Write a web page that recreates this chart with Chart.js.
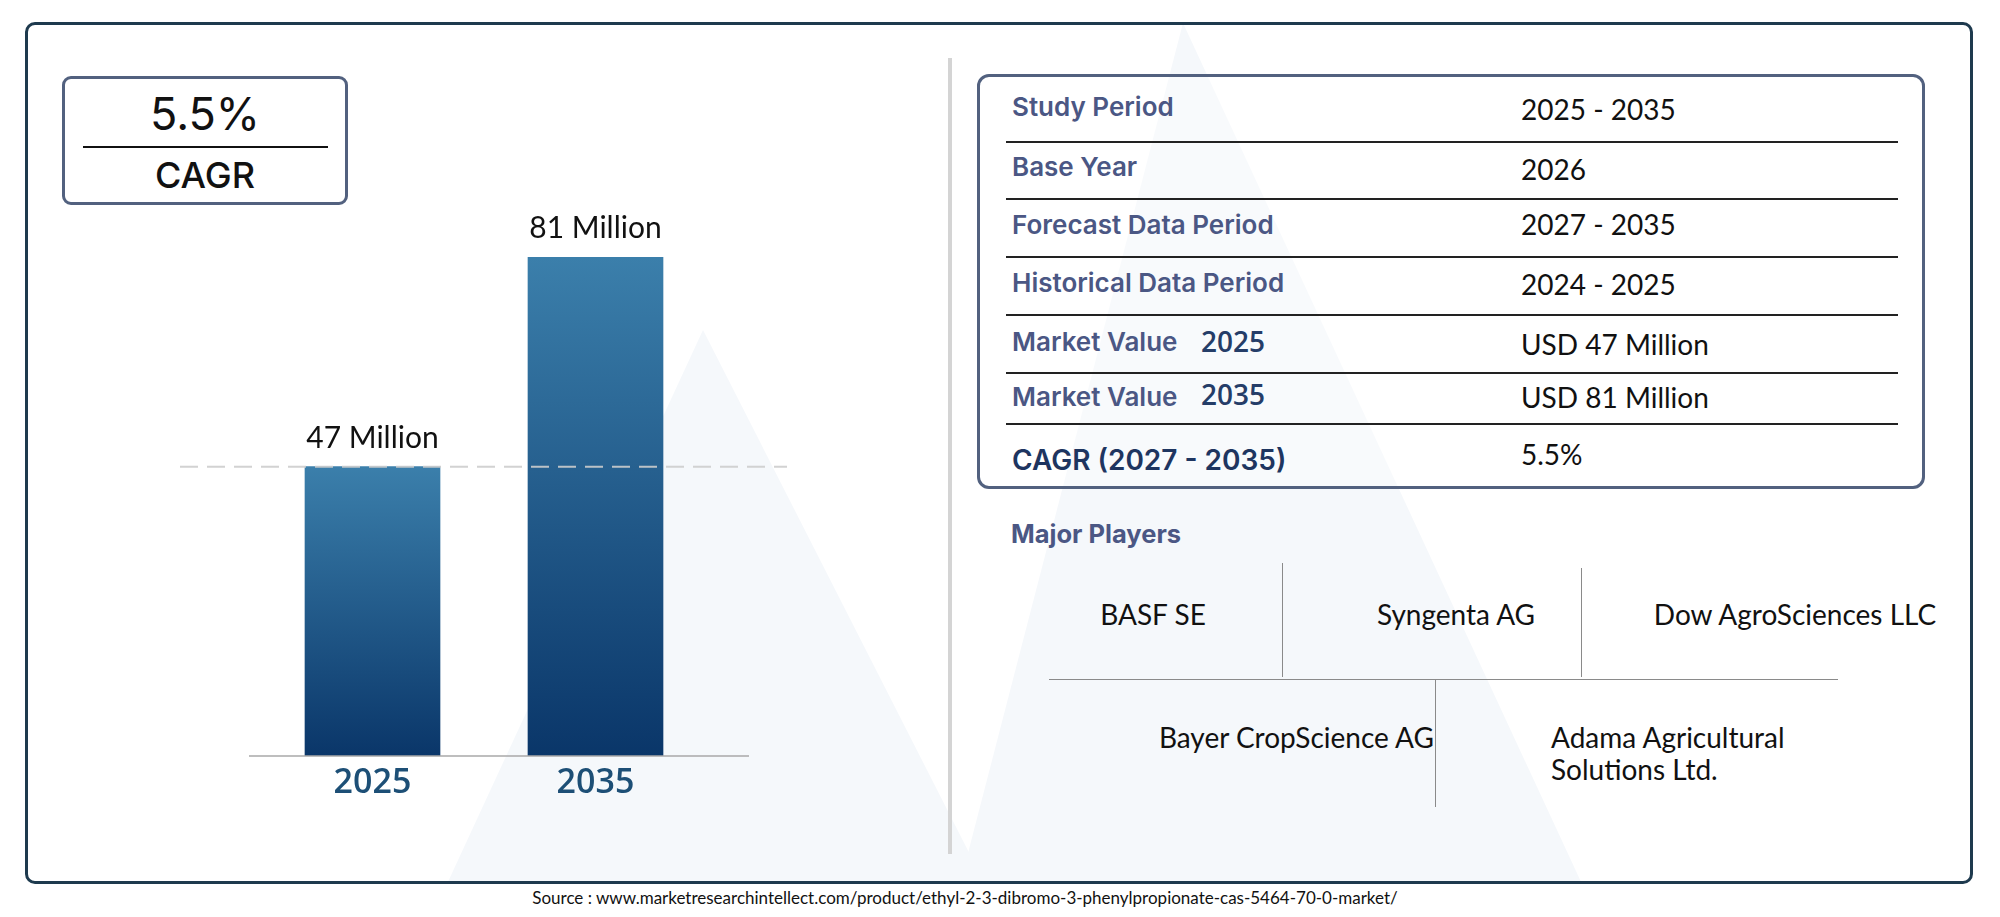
<!DOCTYPE html>
<html>
<head>
<meta charset="utf-8">
<script src="https://cdn.jsdelivr.net/npm/chart.js@4.4.0/dist/chart.umd.min.js"></script>
<style>
    html, body { margin: 0; padding: 0; background: #ffffff; }
    #page { position: relative; width: 2000px; height: 917px; overflow: hidden; }
    .t { position: absolute; line-height: 1; white-space: nowrap; }
    .lbl { font-family: Inter, sans-serif; font-weight: 600; font-size: 26px; color: #4b5784; left: 1012px; }
    .val { font-family: Lato, sans-serif; font-size: 28px; color: #111; left: 1521px; }
    .yr { font-family: "Open Sans", sans-serif; font-weight: 600; font-size: 28px; color: #253d68; left: 1201px; }
    .ply { font-family: Lato, sans-serif; font-size: 28px; color: #111; }
    .hl { position: absolute; height: 1.5px; background: #222; left: 1006px; width: 892px; }
    .vl { position: absolute; width: 1px; background: #8a8a8a; }
</style>
</head>
<body>
<div id="page">
    <svg width="2000" height="917" style="position:absolute;left:0;top:0">
        <polygon points="447,884 703,330 985,884" fill="#f5f8fb"/>
        <polygon points="960,884 1183,23 1582,884" fill="#f5f8fb"/>
    </svg>

    <!-- outer frame -->
    <div style="position:absolute;left:25px;top:22px;width:1948px;height:862px;border:3px solid #1e3a4e;border-radius:10px;box-sizing:border-box"></div>
    <!-- divider -->
    <div style="position:absolute;left:948px;top:58px;width:4px;height:796px;background:#d4d4d4"></div>

    <!-- CAGR box -->
    <div style="position:absolute;left:62px;top:76px;width:286px;height:129px;border:3px solid #52617f;border-radius:9px;box-sizing:border-box;background:#fff"></div>
    <div class="t" style="left:62px;width:286px;text-align:center;top:91px;font-family:Inter,sans-serif;font-size:45px;color:#111">5.5%</div>
    <div style="position:absolute;left:83px;top:146px;width:245px;height:1.5px;background:#111"></div>
    <div class="t" style="left:62px;width:286px;text-align:center;top:157px;font-family:Inter,sans-serif;font-weight:500;font-size:36px;color:#111">CAGR</div>

    <!-- bar chart -->
    <div style="position:absolute;left:150px;top:180px;width:650px;height:660px">
        <canvas id="barChart" width="650" height="660"></canvas>
    </div>

    <!-- summary table -->
    <div style="position:absolute;left:977px;top:74px;width:948px;height:415px;border:3px solid #52617f;border-radius:12px;box-sizing:border-box;background:rgba(255,255,255,0.35)"></div>
    <div class="hl" style="top:141px"></div>
    <div class="hl" style="top:198px"></div>
    <div class="hl" style="top:256px"></div>
    <div class="hl" style="top:314px"></div>
    <div class="hl" style="top:372px"></div>
    <div class="hl" style="top:423px"></div>

    <div class="t lbl" style="top:94px">Study Period</div>
    <div class="t lbl" style="top:154px">Base Year</div>
    <div class="t lbl" style="top:212px">Forecast Data Period</div>
    <div class="t lbl" style="top:270px">Historical Data Period</div>
    <div class="t lbl" style="top:329px">Market Value</div>
    <div class="t yr" style="top:327px">2025</div>
    <div class="t lbl" style="top:384px">Market Value</div>
    <div class="t yr" style="top:380px">2035</div>
    <div class="t" style="left:1012px;top:446px;font-family:Inter,sans-serif;font-weight:600;font-size:28px;color:#1e3560">CAGR (2027 - 2035)</div>

    <div class="t val" style="top:95px">2025 - 2035</div>
    <div class="t val" style="top:155px">2026</div>
    <div class="t val" style="top:210px">2027 - 2035</div>
    <div class="t val" style="top:270px">2024 - 2025</div>
    <div class="t val" style="top:330px">USD 47 Million</div>
    <div class="t val" style="top:383px">USD 81 Million</div>
    <div class="t val" style="top:440px">5.5%</div>

    <!-- major players -->
    <div class="t" style="left:1011px;top:521px;font-family:Inter,sans-serif;font-weight:700;font-size:25.5px;color:#4b5784">Major Players</div>
    <div class="vl" style="left:1282px;top:563px;height:114px"></div>
    <div class="vl" style="left:1581px;top:568px;height:109px"></div>
    <div style="position:absolute;left:1049px;top:679px;width:789px;height:1px;background:#8a8a8a"></div>
    <div class="vl" style="left:1435px;top:679px;height:128px"></div>

    <div class="t ply" style="left:1053px;width:200px;text-align:center;top:600px">BASF SE</div>
    <div class="t ply" style="left:1356px;width:200px;text-align:center;top:600px">Syngenta AG</div>
    <div class="t ply" style="left:1645px;width:300px;text-align:center;top:600px">Dow AgroSciences LLC</div>
    <div class="t ply" style="left:1134px;width:300px;text-align:right;top:723px">Bayer CropScience AG</div>
    <div class="t ply" style="left:1551px;top:723px">Adama Agricultural</div>
    <div class="t ply" style="left:1551px;top:755px">Solutions Ltd.</div>

    <!-- source -->
    <div class="t" style="left:465px;width:1000px;text-align:center;top:889px;font-family:Lato,sans-serif;font-size:17px;color:#111">Source : www.marketresearchintellect.com/product/ethyl-2-3-dibromo-3-phenylpropionate-cas-5464-70-0-market/</div>
</div>

<script>
// chart data
const years = ['2025', '2035'];
const marketValues = [47, 81];
const valueLabels = ['47 Million', '81 Million'];
const yMax = 90;

function barGradient(context) {
    const chart = context.chart;
    const yScale = chart.scales.y;
    if (!chart.chartArea || !yScale) {
        return '#1f5a8c';
    }
    const top = yScale.getPixelForValue(context.raw);
    const bottom = yScale.getPixelForValue(0);
    const g = chart.ctx.createLinearGradient(0, top, 0, bottom);
    g.addColorStop(0, '#3b7fab');
    g.addColorStop(1, '#0a3669');
    return g;
}

// baseline, dashed reference line, value and year labels
const decorPlugin = {
    id: 'decor',
    afterDatasetsDraw(chart) {
        const ctx = chart.ctx;
        const xScale = chart.scales.x;
        const yScale = chart.scales.y;
        const y0 = yScale.getPixelForValue(0);

        ctx.save();
        ctx.strokeStyle = '#a9a9a9';
        ctx.lineWidth = 1.5;
        ctx.beginPath();
        ctx.moveTo(99, y0);
        ctx.lineTo(599, y0);
        ctx.stroke();

        const yd = yScale.getPixelForValue(marketValues[0]);
        ctx.setLineDash([18, 9]);
        ctx.strokeStyle = 'rgba(205, 205, 205, 0.9)';
        ctx.lineWidth = 2;
        ctx.beginPath();
        ctx.moveTo(30, yd);
        ctx.lineTo(637, yd);
        ctx.stroke();
        ctx.setLineDash([]);

        ctx.textAlign = 'center';
        ctx.textBaseline = 'alphabetic';
        marketValues.forEach((v, i) => {
            const cx = xScale.getPixelForValue(i);
            ctx.fillStyle = '#111';
            ctx.font = '30px Lato';
            ctx.fillText(valueLabels[i], cx, yScale.getPixelForValue(v) - 19);
            ctx.fillStyle = '#1d4f76';
            ctx.font = '600 34px "Open Sans"';
            ctx.fillText(years[i], cx, y0 + 37);
        });
        ctx.restore();
    }
};

new Chart(document.getElementById('barChart').getContext('2d'), {
    type: 'bar',
    data: {
        labels: years,
        datasets: [{
            data: marketValues,
            backgroundColor: barGradient,
            borderWidth: 0,
            barThickness: 135
        }]
    },
    options: {
        responsive: false,
        animation: false,
        layout: { padding: { left: 111, right: 93, top: 22, bottom: 84 } },
        plugins: {
            legend: { display: false },
            tooltip: { enabled: false }
        },
        scales: {
            x: { display: false },
            y: { display: false, min: 0, max: yMax }
        }
    },
    plugins: [decorPlugin]
});
</script>
</body>
</html>
